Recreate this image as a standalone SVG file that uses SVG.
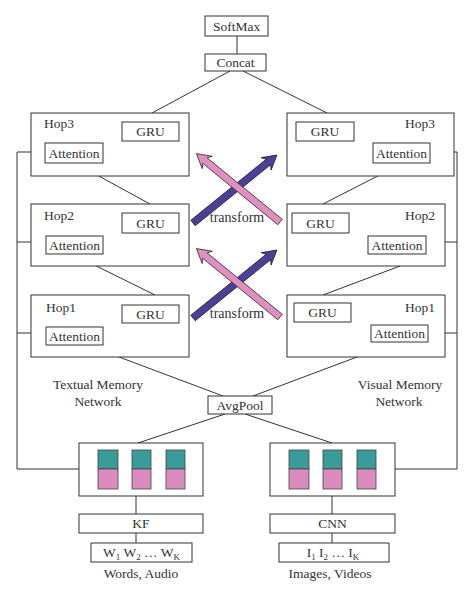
<svg xmlns="http://www.w3.org/2000/svg" width="474" height="599" viewBox="0 0 474 599">
<style>
.b{fill:#fff;stroke:#333;stroke-width:1}
.t{font-family:"Liberation Serif","Times New Roman",serif;font-size:13.5px;fill:#333;text-anchor:middle}
.l{text-anchor:start}
.e{text-anchor:end}
.c line,.c polyline{stroke:#333;stroke-width:1;fill:none}
.teal{fill:#3a9c9a;stroke:#444;stroke-width:0.8}
.pink{fill:#d98cbd;stroke:#444;stroke-width:0.8}
.ab{fill:#4b3f99;stroke:#222;stroke-width:0.8}
.ap{fill:#e08fc0;stroke:#333;stroke-width:0.8}
</style>
<defs>
<polygon id="arr" points="0,-3.5 97,-3.5 94,-8 108,0 94,8 97,3.5 0,3.5"/>
</defs>
<rect width="474" height="599" fill="#fff"/>
<g class="c" id="connectors">
<line x1="237" y1="36" x2="237" y2="54"/>
<line x1="230" y1="71" x2="152" y2="113"/>
<line x1="243" y1="71" x2="327" y2="113"/>
<line x1="122" y1="129" x2="73" y2="143"/>
<line x1="354" y1="128" x2="400" y2="143"/>
<line x1="75" y1="163" x2="150" y2="204"/>
<line x1="403" y1="163" x2="323" y2="204"/>
<line x1="122" y1="222" x2="72" y2="236"/>
<line x1="349" y1="223" x2="399" y2="236"/>
<line x1="72" y1="254" x2="155" y2="295"/>
<line x1="400" y1="266" x2="323" y2="295"/>
<line x1="122" y1="312" x2="72" y2="327"/>
<line x1="351" y1="313" x2="398" y2="325"/>
<line x1="87" y1="345" x2="223" y2="396"/>
<line x1="397" y1="342" x2="253" y2="396"/>
<line x1="225" y1="414" x2="138" y2="443"/>
<line x1="245" y1="414" x2="332" y2="443"/>
<polyline points="31,152 17,152 17,469 79,469"/>
<line x1="17" y1="242" x2="31" y2="242"/>
<line x1="17" y1="333" x2="31" y2="333"/>
<polyline points="454,152 457,152 457,469 395,469"/>
<line x1="445" y1="242" x2="457" y2="242"/>
<line x1="445" y1="333" x2="457" y2="333"/>
<line x1="136" y1="496" x2="136" y2="514"/>
<line x1="136" y1="533" x2="136" y2="543"/>
<line x1="332" y1="496" x2="332" y2="514"/>
<line x1="332" y1="533" x2="332" y2="543"/>
</g>
<g id="softmax"><rect class="b" x="205" y="16" width="63" height="20"/><text class="t" x="236.5" y="30.5">SoftMax</text></g>
<g id="concat"><rect class="b" x="205" y="54" width="61" height="17"/><text class="t" x="235.5" y="67">Concat</text></g>
<g id="hop3-left">
<rect class="b" x="31" y="113" width="158" height="63"/>
<text class="t l" x="44" y="128">Hop3</text>
<rect class="b" x="122" y="122" width="57" height="19"/><text class="t" x="150.5" y="136">GRU</text>
<rect class="b" x="45" y="143" width="58" height="20"/><text class="t" x="74" y="157.5">Attention</text>
</g>
<g id="hop3-right">
<rect class="b" x="287" y="113" width="167" height="63"/>
<text class="t e" x="435" y="128">Hop3</text>
<rect class="b" x="296" y="122" width="58" height="19"/><text class="t" x="325" y="136">GRU</text>
<rect class="b" x="373" y="143" width="57" height="20"/><text class="t" x="401.5" y="157.5">Attention</text>
</g>
<g id="hop2-left">
<rect class="b" x="31" y="204" width="158" height="62"/>
<text class="t l" x="44" y="220">Hop2</text>
<rect class="b" x="122" y="213" width="57" height="20"/><text class="t" x="150.5" y="227.5">GRU</text>
<rect class="b" x="46" y="236" width="57" height="18"/><text class="t" x="74.5" y="249.5">Attention</text>
</g>
<g id="hop2-right">
<rect class="b" x="287" y="204" width="158" height="62"/>
<text class="t e" x="435" y="220">Hop2</text>
<rect class="b" x="292" y="213" width="57" height="20"/><text class="t" x="320.5" y="227.5">GRU</text>
<rect class="b" x="368" y="236" width="58" height="18"/><text class="t" x="397" y="249.5">Attention</text>
</g>
<g id="hop1-left">
<rect class="b" x="31" y="295" width="158" height="62"/>
<text class="t l" x="46" y="312">Hop1</text>
<rect class="b" x="122" y="305" width="57" height="18"/><text class="t" x="150.5" y="318.5">GRU</text>
<rect class="b" x="46" y="327" width="57" height="18"/><text class="t" x="74.5" y="340.5">Attention</text>
</g>
<g id="hop1-right">
<rect class="b" x="287" y="295" width="158" height="62"/>
<text class="t e" x="435" y="312">Hop1</text>
<rect class="b" x="294" y="303" width="57" height="19"/><text class="t" x="322.5" y="317">GRU</text>
<rect class="b" x="371" y="325" width="57" height="17"/><text class="t" x="399.5" y="338">Attention</text>
</g>
<g id="transform-upper">
<use href="#arr" class="ab" transform="translate(193,223) rotate(-39)"/>
<use href="#arr" class="ap" transform="translate(280,222) rotate(-140.7)"/>
<text class="t" x="237" y="222" style="font-size:14px">transform</text>
</g>
<g id="transform-lower">
<use href="#arr" class="ab" transform="translate(193,318) rotate(-39)"/>
<use href="#arr" class="ap" transform="translate(280,317) rotate(-140.7)"/>
<text class="t" x="237" y="318" style="font-size:14px">transform</text>
</g>
<g id="textual-label"><text class="t" x="98" y="389">Textual Memory</text><text class="t" x="98" y="406">Network</text></g>
<g id="visual-label"><text class="t" x="400" y="389">Visual Memory</text><text class="t" x="399" y="406">Network</text></g>
<g id="avgpool"><rect class="b" x="208" y="396" width="64" height="18"/><text class="t" x="240" y="409.5">AvgPool</text></g>
<g id="text-features">
<rect class="b" x="79" y="443" width="124" height="53"/>
<rect class="teal" x="98" y="450" width="20" height="19"/><rect class="pink" x="98" y="469" width="20" height="20"/>
<rect class="teal" x="132" y="450" width="19" height="19"/><rect class="pink" x="132" y="469" width="19" height="20"/>
<rect class="teal" x="166" y="450" width="19" height="19"/><rect class="pink" x="166" y="469" width="19" height="20"/>
</g>
<g id="visual-features">
<rect class="b" x="270" y="443" width="125" height="53"/>
<rect class="teal" x="289" y="450" width="20" height="19"/><rect class="pink" x="289" y="469" width="20" height="20"/>
<rect class="teal" x="323" y="450" width="19" height="19"/><rect class="pink" x="323" y="469" width="19" height="20"/>
<rect class="teal" x="357" y="450" width="19" height="19"/><rect class="pink" x="357" y="469" width="19" height="20"/>
</g>
<g id="kf"><rect class="b" x="79" y="514" width="124" height="19"/><text class="t" x="141" y="528">KF</text></g>
<g id="cnn"><rect class="b" x="270" y="514" width="125" height="19"/><text class="t" x="332.5" y="528">CNN</text></g>
<g id="words">
<rect class="b" x="91" y="543" width="101" height="19"/>
<text class="t" x="141.5" y="557">W<tspan font-size="9" dy="3">1</tspan><tspan dy="-3"> W</tspan><tspan font-size="9" dy="3">2</tspan><tspan dy="-3"> … W</tspan><tspan font-size="9" dy="3">K</tspan></text>
<text class="t" x="141" y="578">Words, Audio</text>
</g>
<g id="images">
<rect class="b" x="279" y="543" width="110" height="19"/>
<text class="t" x="333" y="557">I<tspan font-size="9" dy="3">1</tspan><tspan dy="-3">  I</tspan><tspan font-size="9" dy="3">2</tspan><tspan dy="-3"> … I</tspan><tspan font-size="9" dy="3">K</tspan></text>
<text class="t" x="330" y="578">Images, Videos</text>
</g>
</svg>
